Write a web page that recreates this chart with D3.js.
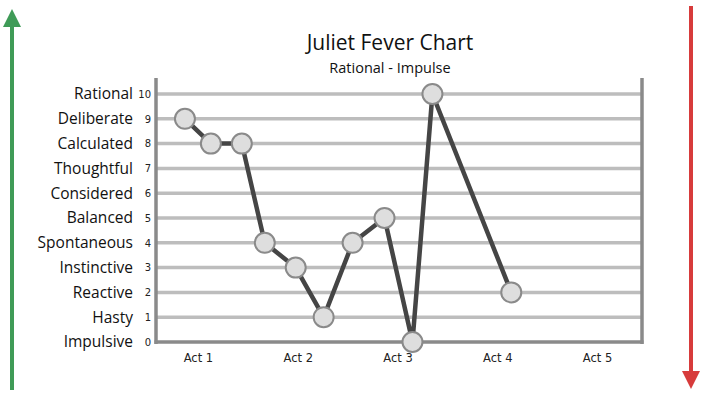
<!DOCTYPE html>
<html lang="en">
<head>
<meta charset="UTF-8">
<title>Juliet Fever Chart</title>
<style>
  body { margin: 0; background: #fff; }
  svg text { font-family: "Open Sans", "Noto Sans", sans-serif; }
</style>
</head>
<body>
<div id="chart"></div>
<script src="https://d3js.org/d3.v7.min.js"></script>
<script>
// Data
const levels = ["Impulsive", "Hasty", "Reactive", "Instinctive", "Spontaneous",
  "Balanced", "Considered", "Thoughtful", "Calculated", "Deliberate", "Rational"];
const acts = ["Act 1", "Act 2", "Act 3", "Act 4", "Act 5"];
// position along the play (1 = Act 1) and rational score
const moments = [0.87, 1.13, 1.44, 1.67, 1.98, 2.26, 2.55, 2.87, 3.15, 3.35, 4.14];
const scores  = [9, 8, 8, 4, 3, 1, 4, 5, 0, 10, 2];

const width = 704, height = 396;
const svg = d3.select("#chart").append("svg")
  .attr("width", width).attr("height", height);

const x = d3.scaleLinear().domain([0.58, 5.45]).range([156, 642]);
const y = d3.scaleLinear().domain([0, 10]).range([342, 94]);

// Arrows on both sides
const defs = svg.append("defs");
[["up", "#3f9b57"], ["down", "#d73b3b"]].forEach(([id, c]) => {
  defs.append("marker").attr("id", "arr-" + id)
    .attr("viewBox", "0 0 10 10").attr("refX", 5).attr("refY", 5)
    .attr("markerWidth", 4.5).attr("markerHeight", 4.5)
    .attr("markerUnits", "strokeWidth").attr("orient", "auto")
    .append("path").attr("d", "M0,0 L10,5 L0,10 Z").attr("fill", c);
});
svg.append("line").attr("x1", 12).attr("x2", 12).attr("y1", 390).attr("y2", 18)
  .attr("stroke", "#3f9b57").attr("stroke-width", 4).attr("marker-end", "url(#arr-up)");
svg.append("line").attr("x1", 691).attr("x2", 691).attr("y1", 6).attr("y2", 380)
  .attr("stroke", "#d73b3b").attr("stroke-width", 4).attr("marker-end", "url(#arr-down)");

// Title
svg.append("text").attr("x", 390).attr("y", 50).attr("text-anchor", "middle")
  .attr("font-size", 21).attr("fill", "#111").text("Juliet Fever Chart");
svg.append("text").attr("x", 390).attr("y", 73).attr("text-anchor", "middle")
  .attr("font-size", 14.5).attr("fill", "#111").text("Rational - Impulse");

// Grid lines
svg.append("g").selectAll("line").data(d3.range(1, 11)).join("line")
  .attr("x1", x(0.58)).attr("x2", x(5.45))
  .attr("y1", d => y(d)).attr("y2", d => y(d))
  .attr("stroke", "#bdbdbd").attr("stroke-width", 3.5);

// Frame: left, right, bottom
const frame = svg.append("g").attr("stroke", "#8a8a8a").attr("stroke-width", 3.5);
frame.append("line").attr("x1", x(0.58)).attr("x2", x(0.58)).attr("y1", 78).attr("y2", y(0) + 2);
frame.append("line").attr("x1", x(5.45)).attr("x2", x(5.45)).attr("y1", 78).attr("y2", y(0) + 2);
frame.append("line").attr("x1", x(0.58) - 1.5).attr("x2", x(5.45) + 1.5).attr("y1", y(0)).attr("y2", y(0));

// Y axis numbers and labels
const yAxis = svg.append("g").attr("transform", `translate(${x(0.58) - 5},0)`)
  .call(d3.axisLeft(y).ticks(10).tickSize(0).tickPadding(0));
yAxis.select(".domain").remove();
yAxis.selectAll("text").attr("font-size", 10).attr("fill", "#222")
  .style("font-family", "'DejaVu Sans', sans-serif");

svg.append("g").selectAll("text").data(levels).join("text")
  .attr("x", 133).attr("y", (d, i) => y(i)).attr("dy", "0.35em")
  .attr("text-anchor", "end").attr("font-size", 15.5).attr("fill", "#111")
  .text(d => d);

// X axis labels
const xAxis = svg.append("g").attr("transform", `translate(0,${y(0) + 8})`)
  .call(d3.axisBottom(x).tickValues([1, 2, 3, 4, 5]).tickSize(0).tickPadding(4)
    .tickFormat((d, i) => acts[i]));
xAxis.select(".domain").remove();
xAxis.selectAll("text").attr("font-size", 11.5).attr("fill", "#222")
  .style("font-family", "'DejaVu Sans', sans-serif");

// Fever line
const pts = moments.map((m, i) => ({ m, v: scores[i] }));
svg.append("path").datum(pts)
  .attr("d", d3.line().x(d => x(d.m)).y(d => y(d.v)))
  .attr("fill", "none").attr("stroke", "#454545").attr("stroke-width", 4.5)
  .attr("stroke-linejoin", "round");

svg.append("g").selectAll("circle").data(pts).join("circle")
  .attr("cx", d => x(d.m)).attr("cy", d => y(d.v)).attr("r", 10)
  .attr("fill", "#dedede").attr("stroke", "#8a8a8a").attr("stroke-width", 2);
</script>
</body>
</html>
